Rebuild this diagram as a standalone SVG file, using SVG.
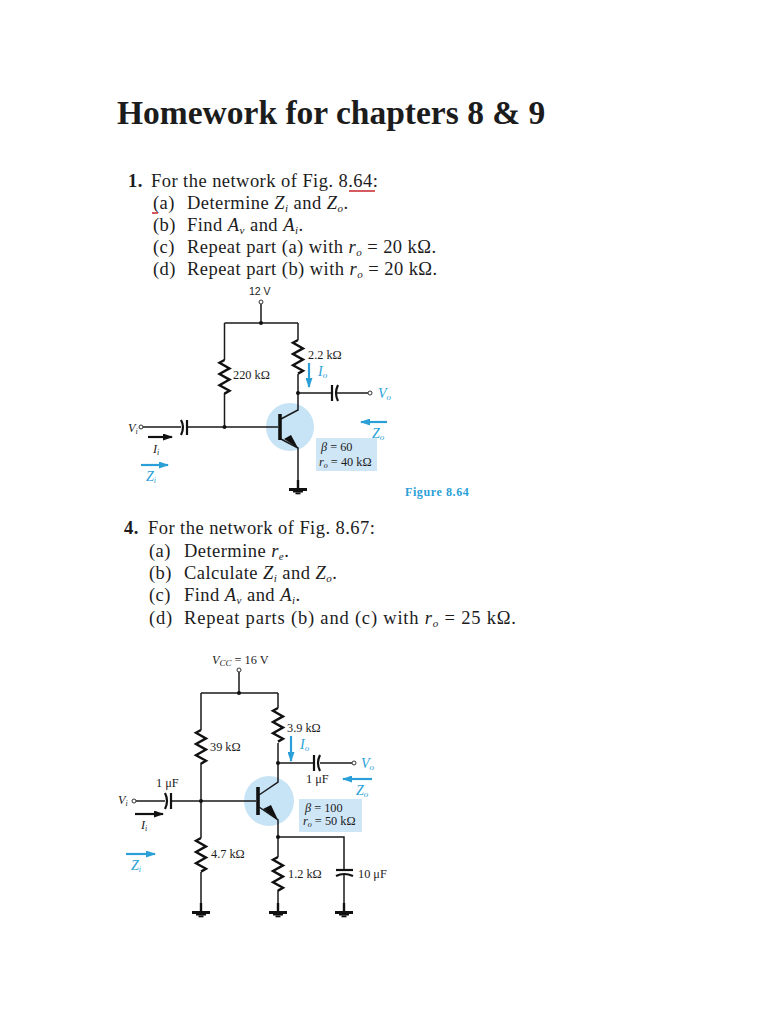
<svg xmlns="http://www.w3.org/2000/svg" width="768" height="1024" viewBox="0 0 768 1024">
<style>
text{font-family:"Liberation Serif","Times New Roman",serif;fill:#1c1c1c}
.q{font-size:18.500px;letter-spacing:.45px}
.i{font-style:italic}
.lab{font-size:12.300px}
.san{font-family:"Liberation Sans",Arial,sans-serif;font-size:10.500px}
.b{fill:#2a9fd8}
.bl{font-size:14px}
.w{fill:none;stroke:#1a1a1a;stroke-width:1.5}
.r{fill:none;stroke:#111;stroke-width:2.400;stroke-linejoin:miter}
.bar{fill:none;stroke:#111;stroke-width:3.600}
.cap{fill:none;stroke:#111;stroke-width:2.200}
.term{fill:#fff;stroke:#333;stroke-width:1}
.dot{fill:#111}
.tc{fill:#c7e3f6}
.box{fill:#cfe6f7}
.ab{stroke:#2a9fd8;stroke-width:2.200;fill:none}
.ak{stroke:#111;stroke-width:2.200;fill:none}
</style>
<defs>
<path id="res" class="r" d="M0 0L-5 2.800L5 8.400L-5 14L5 19.600L-5 25.200L5 30.800L0 33.600"/>
<g id="gnd"><path d="M0 -9V0" stroke="#111" stroke-width="2.400"/><rect x="-9" y="-1" width="18" height="3" fill="#111"/><rect x="-5" y="2" width="10" height="1.500" fill="#111"/><rect x="-2.500" y="3.500" width="5" height="1.800" fill="#111"/></g>
<marker id="mb" markerWidth="10" markerHeight="7" refX="9" refY="3.500" orient="auto" markerUnits="userSpaceOnUse"><path d="M0 0L10 3.500L0 7z" fill="#2a9fd8"/></marker>
<marker id="mk" markerWidth="10" markerHeight="7" refX="9" refY="3.500" orient="auto" markerUnits="userSpaceOnUse"><path d="M0 0L10 3.500L0 7z" fill="#111"/></marker>
</defs>
<rect width="768" height="1024" fill="#fff"/>
<text id="title" x="117" y="124" font-size="33.500" font-weight="bold" fill="#111">Homework for chapters 8 &amp; 9</text>

<g id="problem-1">
<text class="q" x="128" y="187"><tspan font-weight="bold">1.</tspan><tspan x="151">For the network of Fig. 8.64:</tspan></text>
<text class="q" x="153" y="209">(a)<tspan x="187">Determine </tspan><tspan class="i">Z<tspan font-size="11" dy="3">i</tspan></tspan><tspan dy="-3"> and </tspan><tspan class="i">Z<tspan font-size="11" dy="3">o</tspan></tspan><tspan dy="-3">.</tspan></text>
<text class="q" x="153" y="231">(b)<tspan x="187">Find </tspan><tspan class="i">A<tspan font-size="11" dy="3">v</tspan></tspan><tspan dy="-3"> and </tspan><tspan class="i">A<tspan font-size="11" dy="3">i</tspan></tspan><tspan dy="-3">.</tspan></text>
<text class="q" x="153" y="253">(c)<tspan x="187">Repeat part (a) with </tspan><tspan class="i">r<tspan font-size="11" dy="3">o</tspan></tspan><tspan dy="-3"> = 20 kΩ.</tspan></text>
<text class="q" x="153" y="275">(d)<tspan x="187">Repeat part (b) with </tspan><tspan class="i">r<tspan font-size="11" dy="3">o</tspan></tspan><tspan dy="-3"> = 20 kΩ.</tspan></text>
<path d="M349 191H375M152 213H158" stroke="#c8262c" stroke-width="1.400" fill="none"/>
</g>

<g id="figure-8-64">
<g id="f1-transistor"><circle class="tc" cx="290" cy="427" r="24"/></g>
<g id="f1-connectors">
<path class="w" d="M261 304V323M224.500 323H298M224.500 323V360M224.500 393V427M298 323V340M298 374V410L279 420M279 438L298 448V482M143 427H181M187 427H278M298 393H331M337 393H368"/>
</g>
<g id="f1-q"><path d="M280 414V440" class="bar"/><path d="M284 439L298 448L291 435z" fill="#111"/></g>
<g id="f1-vcc"><circle class="term" cx="261" cy="302" r="2"/><circle class="dot" cx="261" cy="323" r="2"/><text class="san" x="249" y="295">12 V</text></g>
<g id="f1-r1"><use href="#res" x="224.500" y="360"/><text class="lab" x="233" y="379">220 kΩ</text></g>
<g id="f1-r2"><use href="#res" x="298" y="340"/><text class="lab" x="308" y="359">2.2 kΩ</text></g>
<g id="f1-nodes"><circle class="dot" cx="298" cy="393" r="2"/><circle class="dot" cx="224.500" cy="427" r="2"/></g>
<g id="f1-c-in"><path class="cap" d="M181 420Q185 427 181 435"/><path class="cap" d="M187 420V435"/></g>
<g id="f1-c-out"><path class="cap" d="M332 385V401"/><path class="cap" d="M338 385Q334 393 338 401"/></g>
<g id="f1-vi"><circle class="term" cx="141" cy="427" r="2"/><text class="lab i" x="128" y="432">V<tspan font-size="8" dy="2">i</tspan></text></g>
<g id="f1-vo"><circle class="term" cx="370" cy="393" r="2"/><text class="bl i b" x="378" y="398">V<tspan font-size="9" dy="2">o</tspan></text></g>
<g id="f1-ii"><path class="ak" d="M148 437H172" marker-end="url(#mk)"/><text class="lab i" x="153" y="453">I<tspan font-size="8" dy="2">i</tspan></text></g>
<g id="f1-zi"><path class="ab" d="M141 465H168" marker-end="url(#mb)"/><text class="bl i b" x="146" y="481">Z<tspan font-size="8" dy="2">i</tspan></text></g>
<g id="f1-zo"><path class="ab" d="M387 422H361" marker-end="url(#mb)"/><text class="bl i b" x="372" y="438">Z<tspan font-size="9" dy="2">o</tspan></text></g>
<g id="f1-io"><path class="ab" d="M309 363V387" marker-end="url(#mb)"/><text class="bl i b" x="318" y="376">I<tspan font-size="9" dy="2">o</tspan></text></g>
<g id="f1-box"><rect class="box" x="316" y="438" width="61" height="33"/><text class="lab" x="321" y="451"><tspan class="i">β</tspan> = 60</text><text class="lab" x="319" y="466"><tspan class="i">r<tspan font-size="8" dy="2">o</tspan></tspan><tspan dy="-2"> = 40 kΩ</tspan></text></g>
<text id="f1-caption" x="405" y="496" font-size="12" font-weight="bold" letter-spacing=".6" style="fill:#2a9fd8">Figure 8.64</text>
<g id="f1-gnd"><use href="#gnd" x="298" y="489"/></g>
</g>

<g id="problem-4">
<text class="q" x="124" y="534"><tspan font-weight="bold">4.</tspan><tspan x="148">For the network of Fig. 8.67:</tspan></text>
<text class="q" x="149" y="557">(a)<tspan x="184">Determine </tspan><tspan class="i">r<tspan font-size="11" dy="3">e</tspan></tspan><tspan dy="-3">.</tspan></text>
<text class="q" x="149" y="579">(b)<tspan x="184">Calculate </tspan><tspan class="i">Z<tspan font-size="11" dy="3">i</tspan></tspan><tspan dy="-3"> and </tspan><tspan class="i">Z<tspan font-size="11" dy="3">o</tspan></tspan><tspan dy="-3">.</tspan></text>
<text class="q" x="149" y="601">(c)<tspan x="184">Find </tspan><tspan class="i">A<tspan font-size="11" dy="3">v</tspan></tspan><tspan dy="-3"> and </tspan><tspan class="i">A<tspan font-size="11" dy="3">i</tspan></tspan><tspan dy="-3">.</tspan></text>
<text class="q" x="149" y="624" style="letter-spacing:.8px">(d)<tspan x="184">Repeat parts (b) and (c) with </tspan><tspan class="i">r<tspan font-size="11" dy="3">o</tspan></tspan><tspan dy="-3"> = 25 kΩ.</tspan></text>
</g>

<g id="figure-8-67">
<g id="f2-transistor"><circle class="tc" cx="269" cy="801" r="25"/></g>
<g id="f2-connectors">
<path class="w" d="M239 672V693M201 693H278M201 693V730M201 763V838M201 872V903M278 693V708M278 743V782L259 795M259 807L278 820V857M278 890V903M136 801H165M171 801H256M278 763H314M320 763H352M278 837H344V870M344 875V903"/>
</g>
<g id="f2-q"><path class="bar" d="M258 787V815"/><path d="M263 809L278 820L271 805z" fill="#111"/></g>
<g id="f2-vcc"><circle class="term" cx="239" cy="670" r="2"/><circle class="dot" cx="239" cy="693" r="2"/><text class="lab" x="212" y="664"><tspan class="i">V<tspan font-size="9" dy="2">CC</tspan></tspan><tspan dy="-2"> = 16 V</tspan></text></g>
<g id="f2-r1"><use href="#res" x="201" y="730"/><text class="lab" x="210" y="751">39 kΩ</text></g>
<g id="f2-r2"><use href="#res" x="201" y="838"/><text class="lab" x="211" y="858">4.7 kΩ</text></g>
<g id="f2-r3"><use href="#res" x="278" y="708"/><text class="lab" x="287" y="732">3.9 kΩ</text></g>
<g id="f2-r4"><use href="#res" x="278" y="857"/><text class="lab" x="288" y="878">1.2 kΩ</text></g>
<g id="f2-nodes"><circle class="dot" cx="278" cy="763" r="2"/><circle class="dot" cx="201" cy="801" r="2"/><circle class="dot" cx="278" cy="837" r="2"/></g>
<g id="f2-c-in"><path class="cap" d="M165 793Q169 801 165 809"/><path class="cap" d="M171 793V809"/><text class="lab" x="156" y="787">1 μF</text></g>
<g id="f2-c-out"><path class="cap" d="M314 755V771"/><path class="cap" d="M320 755Q316 763 320 771"/><text class="lab" x="306" y="783">1 μF</text></g>
<g id="f2-c-e"><path class="cap" d="M336 870H353"/><path class="cap" d="M336 876Q344 872 353 876"/><text class="lab" x="358" y="878">10 μF</text></g>
<g id="f2-vi"><circle class="term" cx="134" cy="801" r="2"/><text class="lab i" x="118" y="804">V<tspan font-size="8" dy="2">i</tspan></text></g>
<g id="f2-vo"><circle class="term" cx="354" cy="763" r="2"/><text class="bl i b" x="361" y="768">V<tspan font-size="9" dy="2">o</tspan></text></g>
<g id="f2-ii"><path class="ak" d="M135 814H163" marker-end="url(#mk)"/><text class="lab i" x="141" y="829">I<tspan font-size="8" dy="2">i</tspan></text></g>
<g id="f2-zi"><path class="ab" d="M126 854H155" marker-end="url(#mb)"/><text class="bl i b" x="131" y="870">Z<tspan font-size="8" dy="2">i</tspan></text></g>
<g id="f2-zo"><path class="ab" d="M372 779H343" marker-end="url(#mb)"/><text class="bl i b" x="356" y="795">Z<tspan font-size="9" dy="2">o</tspan></text></g>
<g id="f2-io"><path class="ab" d="M291 736V761" marker-end="url(#mb)"/><text class="bl i b" x="300" y="749">I<tspan font-size="9" dy="2">o</tspan></text></g>
<g id="f2-box"><rect class="box" x="299" y="799" width="63" height="33"/><text class="lab" x="305" y="812"><tspan class="i">β</tspan> = 100</text><text class="lab" x="303" y="825"><tspan class="i">r<tspan font-size="8" dy="2">o</tspan></tspan><tspan dy="-2"> = 50 kΩ</tspan></text></g>
<g id="f2-gnd1"><use href="#gnd" x="201" y="912"/></g>
<g id="f2-gnd2"><use href="#gnd" x="278" y="912"/></g>
<g id="f2-gnd3"><use href="#gnd" x="344" y="912"/></g>
</g>
</svg>
